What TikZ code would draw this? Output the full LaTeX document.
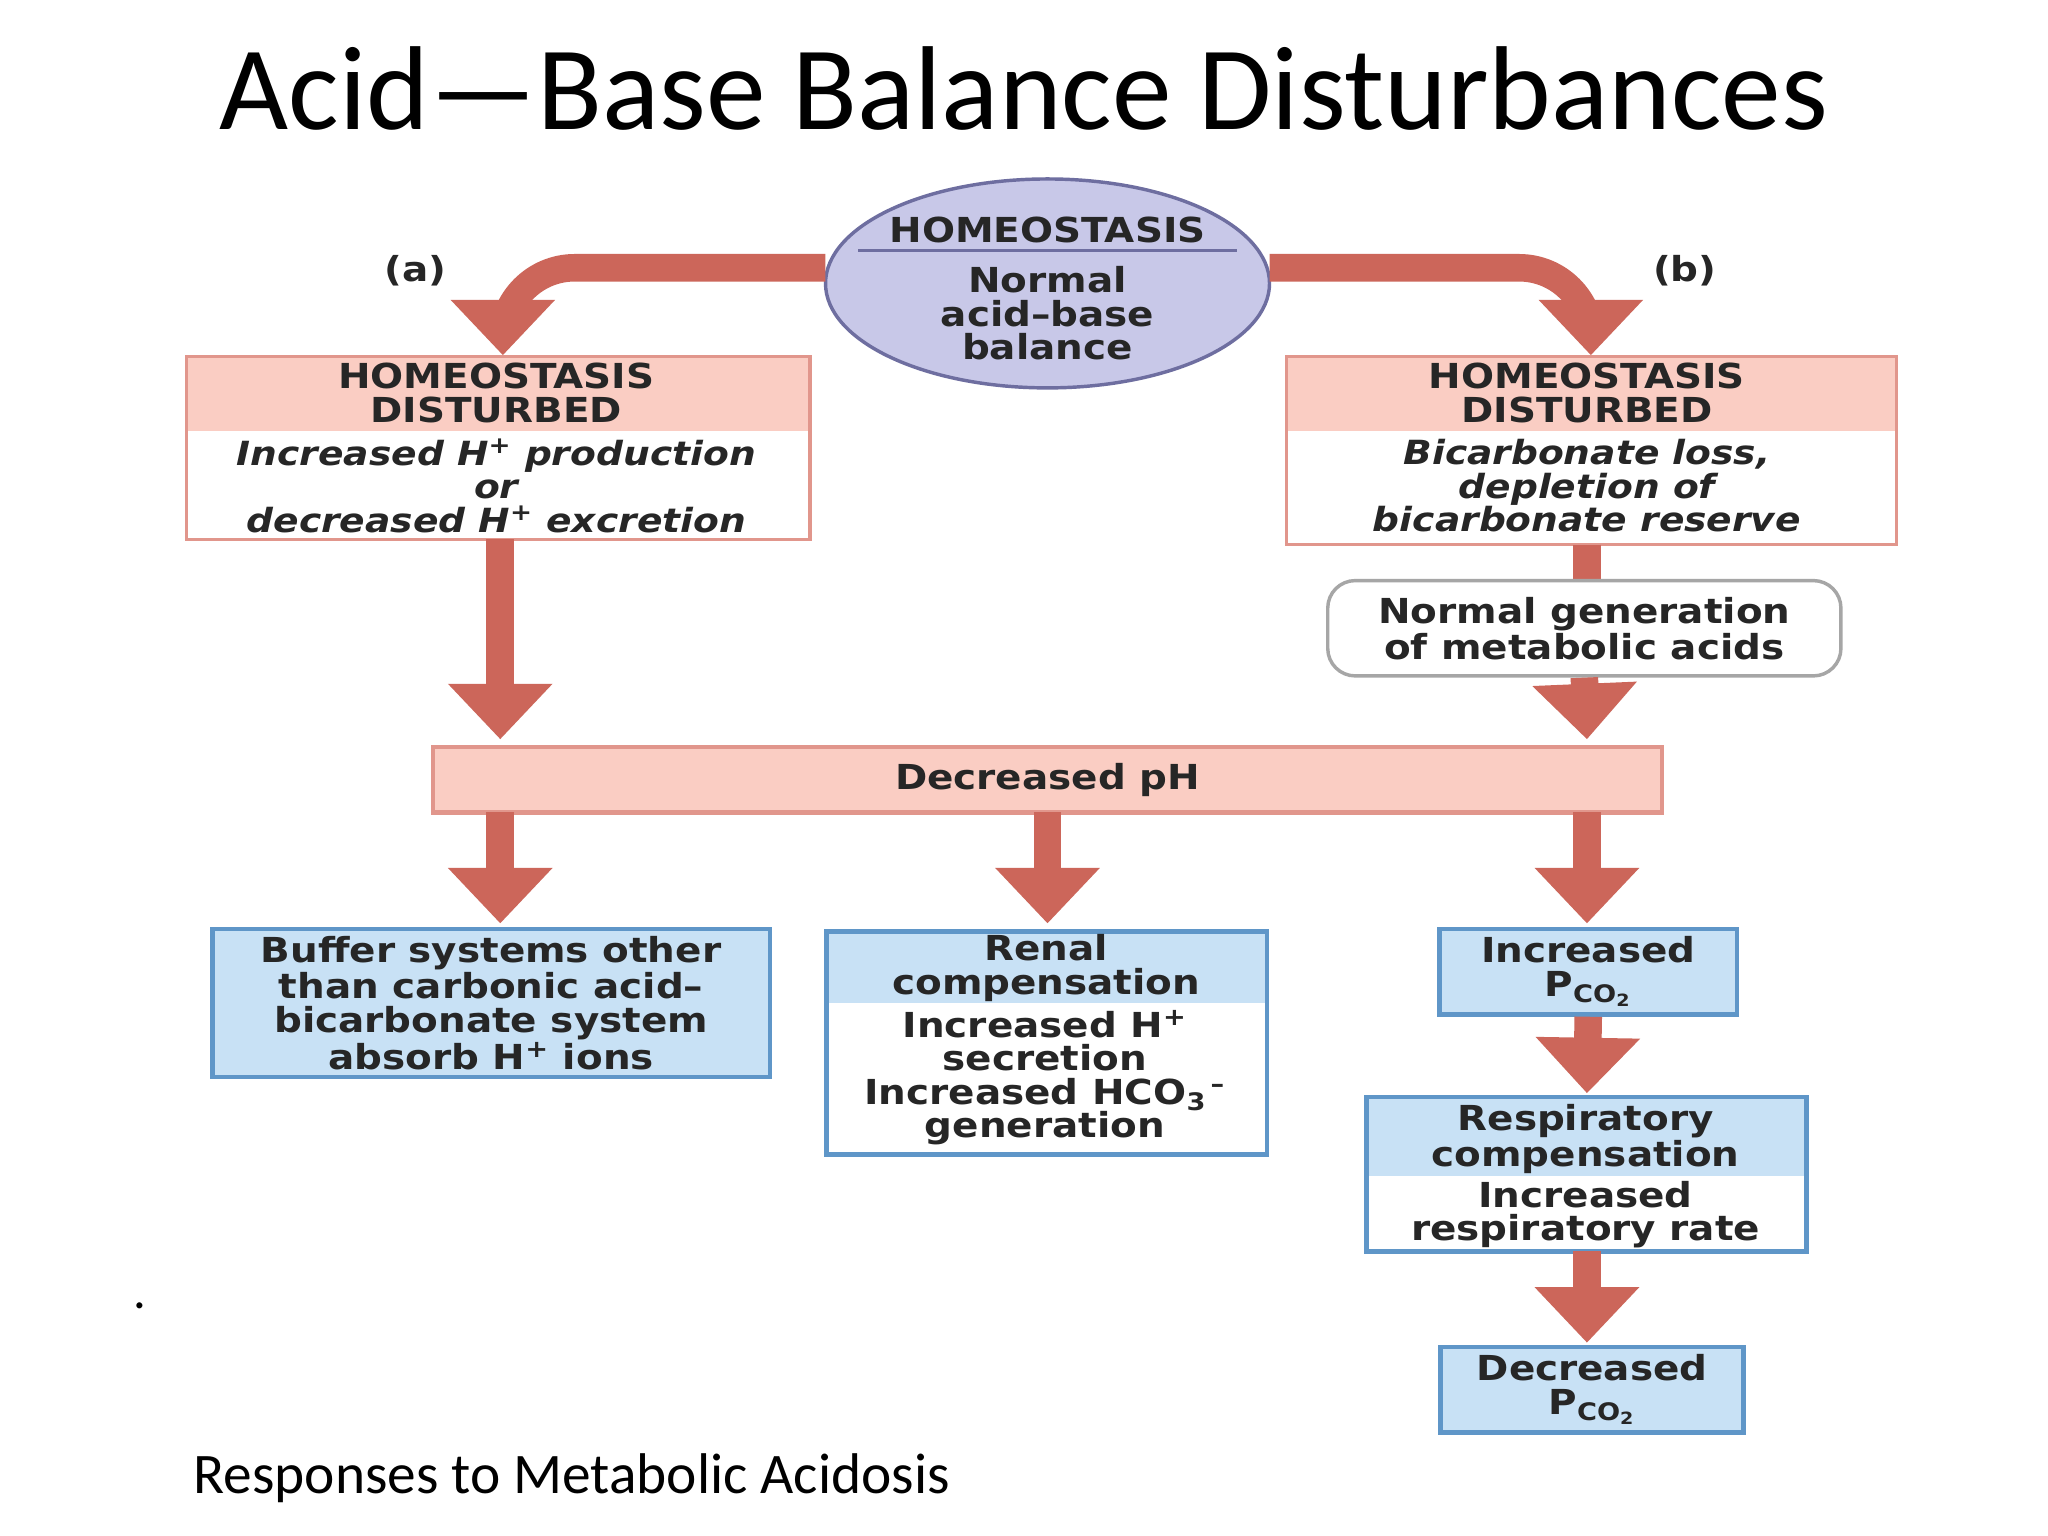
\documentclass[tikz,border=0pt]{standalone}
\usepackage{fontspec}
\setmainfont{Carlito}
\newfontfamily\dia[FakeStretch=1.13]{DejaVu Sans}
\usetikzlibrary{arrows.meta,shapes.geometric}
\definecolor{arr}{RGB}{204,102,90}
\definecolor{pinkh}{RGB}{250,205,195}
\definecolor{pinkb}{RGB}{225,150,140}
\definecolor{blueh}{RGB}{200,225,245}
\definecolor{blueb}{RGB}{95,150,200}
\definecolor{lav}{RGB}{200,200,232}
\definecolor{lavb}{RGB}{110,110,160}
\begin{document}
\begin{tikzpicture}[x=0.02cm,y=-0.02cm,
  t/.style={font=\dia\bfseries\fontsize{15}{14.6}\selectfont,align=center,text=black!85},
  ti/.style={font=\dia\bfseries\itshape\fontsize{14.5}{14.6}\selectfont,align=center,text=black!85},
  big/.style={draw=arr,line width=12pt,-{Triangle[width=1.55cm,length=0.85cm]}},
  pbox/.style={draw=pinkb,line width=1.5pt},
  bbox/.style={draw=blueb,line width=2pt}]
\useasboundingbox (0,0) rectangle (1568,1176);
\fill[white] (0,0) rectangle (1568,1176);
\node[font=\fontsize{52}{58}\selectfont] (title) at (784,68) {Acid\textemdash Base Balance Disturbances};
% ellipse
\node[ellipse,draw=lavb,fill=lav,line width=1.5pt,minimum width=6.8cm,minimum height=3.2cm] (home) at (802,217) {};
\node[t] (homet) at (802,176) {HOMEOSTASIS};
\draw[lavb,line width=1.2pt] (657,192) -- (947,192);
\node[t] (homen) at (802,240) {Normal\\acid\textendash base\\balance};
% top arrows
\coordinate (la) at (632,205); \coordinate (lt) at (385,272);
\coordinate (ra) at (972,205); \coordinate (rt) at (1218,272);
\draw[big,rounded corners=1.1cm] (la) -| (lt);
\draw[big,rounded corners=1.1cm] (ra) -| (rt);
\node[t] (a) at (318,207) {(a)};
\node[t] (b) at (1290,207) {(b)};
% left box
\fill[pinkh] (143,273) rectangle (620,330);
\draw[pbox] (143,273) rectangle (620,413);
\node[t] (lh) at (380,301) {HOMEOSTASIS\\DISTURBED};
\node[ti] (lb) at (380,372) {Increased H\textsuperscript{+} production\\or\\decreased H\textsuperscript{+} excretion};
% right box
\fill[pinkh] (985,273) rectangle (1452,330);
\draw[pbox] (985,273) rectangle (1452,417);
\node[t] (rh) at (1215,301) {HOMEOSTASIS\\DISTURBED};
\node[ti] (rb) at (1215,372) {Bicarbonate loss,\\depletion of\\bicarbonate reserve};
% normal generation
\coordinate (r1) at (1215,417); \coordinate (r2) at (1215,447);
\draw[arr,line width=12pt] (r1) -- (r2);
\node[draw=black!35,fill=white,line width=1.5pt,rounded corners=12pt,minimum width=7.86cm,minimum height=1.46cm,t] (ng) at (1213,481) {Normal generation\\of metabolic acids};
\coordinate (lbot) at (383,413);
\node[draw=pinkb,fill=pinkh,line width=2pt,minimum width=18.82cm,minimum height=1cm,t] (ph) at (802,597) {Decreased pH};
\draw[big] (lbot) -- (383,566);
\draw[big] (ng.south) -- (1215,566);
% lower arrows
\draw[big] (383,622) -- (383,707);
\draw[big] (802,622) -- (802,707);
\draw[big] (1215,622) -- (1215,707);
% buffer
\node[bbox,fill=blueh,minimum width=8.54cm,minimum height=2.2cm,t] (buf) at (376,768) {Buffer systems other\\than carbonic acid\textendash\\bicarbonate system\\absorb H\textsuperscript{+} ions};
% renal
\fill[blueh] (633,713) rectangle (970,768);
\draw[bbox] (633,713) rectangle (970,884);
\node[t] (rh2) at (801,741) {Renal\\compensation};
\node[t] (rb2) at (800,825) {Increased H\textsuperscript{+}\\secretion\\Increased HCO\textsubscript{3}\textsuperscript{\,\textendash}\\generation};
% PCO2
\node[bbox,fill=blueh,minimum width=4.56cm,minimum height=1.24cm,t] (ip) at (1216,744) {Increased\\P\textsubscript{CO\textsubscript{2}}};
\draw[big] (ip.south) -- (1215,837);
\fill[blueh] (1046,840) rectangle (1383,900);
\draw[bbox] (1046,840) rectangle (1383,958);
\node[t] (rsh) at (1214,872) {Respiratory\\compensation};
\node[t] (rsb) at (1214,930) {Increased\\respiratory rate};
\coordinate (rsbot) at (1215,958);
\draw[big] (rsbot) -- (1215,1028);
\node[bbox,fill=blueh,minimum width=4.64cm,minimum height=1.24cm,t] (dp) at (1219,1064) {Decreased\\P\textsubscript{CO\textsubscript{2}}};
\node[font=\fontsize{22}{26}\selectfont] (dot) at (107,1000) {.};
\node[font=\fontsize{25}{30}\selectfont,anchor=west] (cap) at (142,1132) {Responses to Metabolic Acidosis};
\end{tikzpicture}
\end{document}
